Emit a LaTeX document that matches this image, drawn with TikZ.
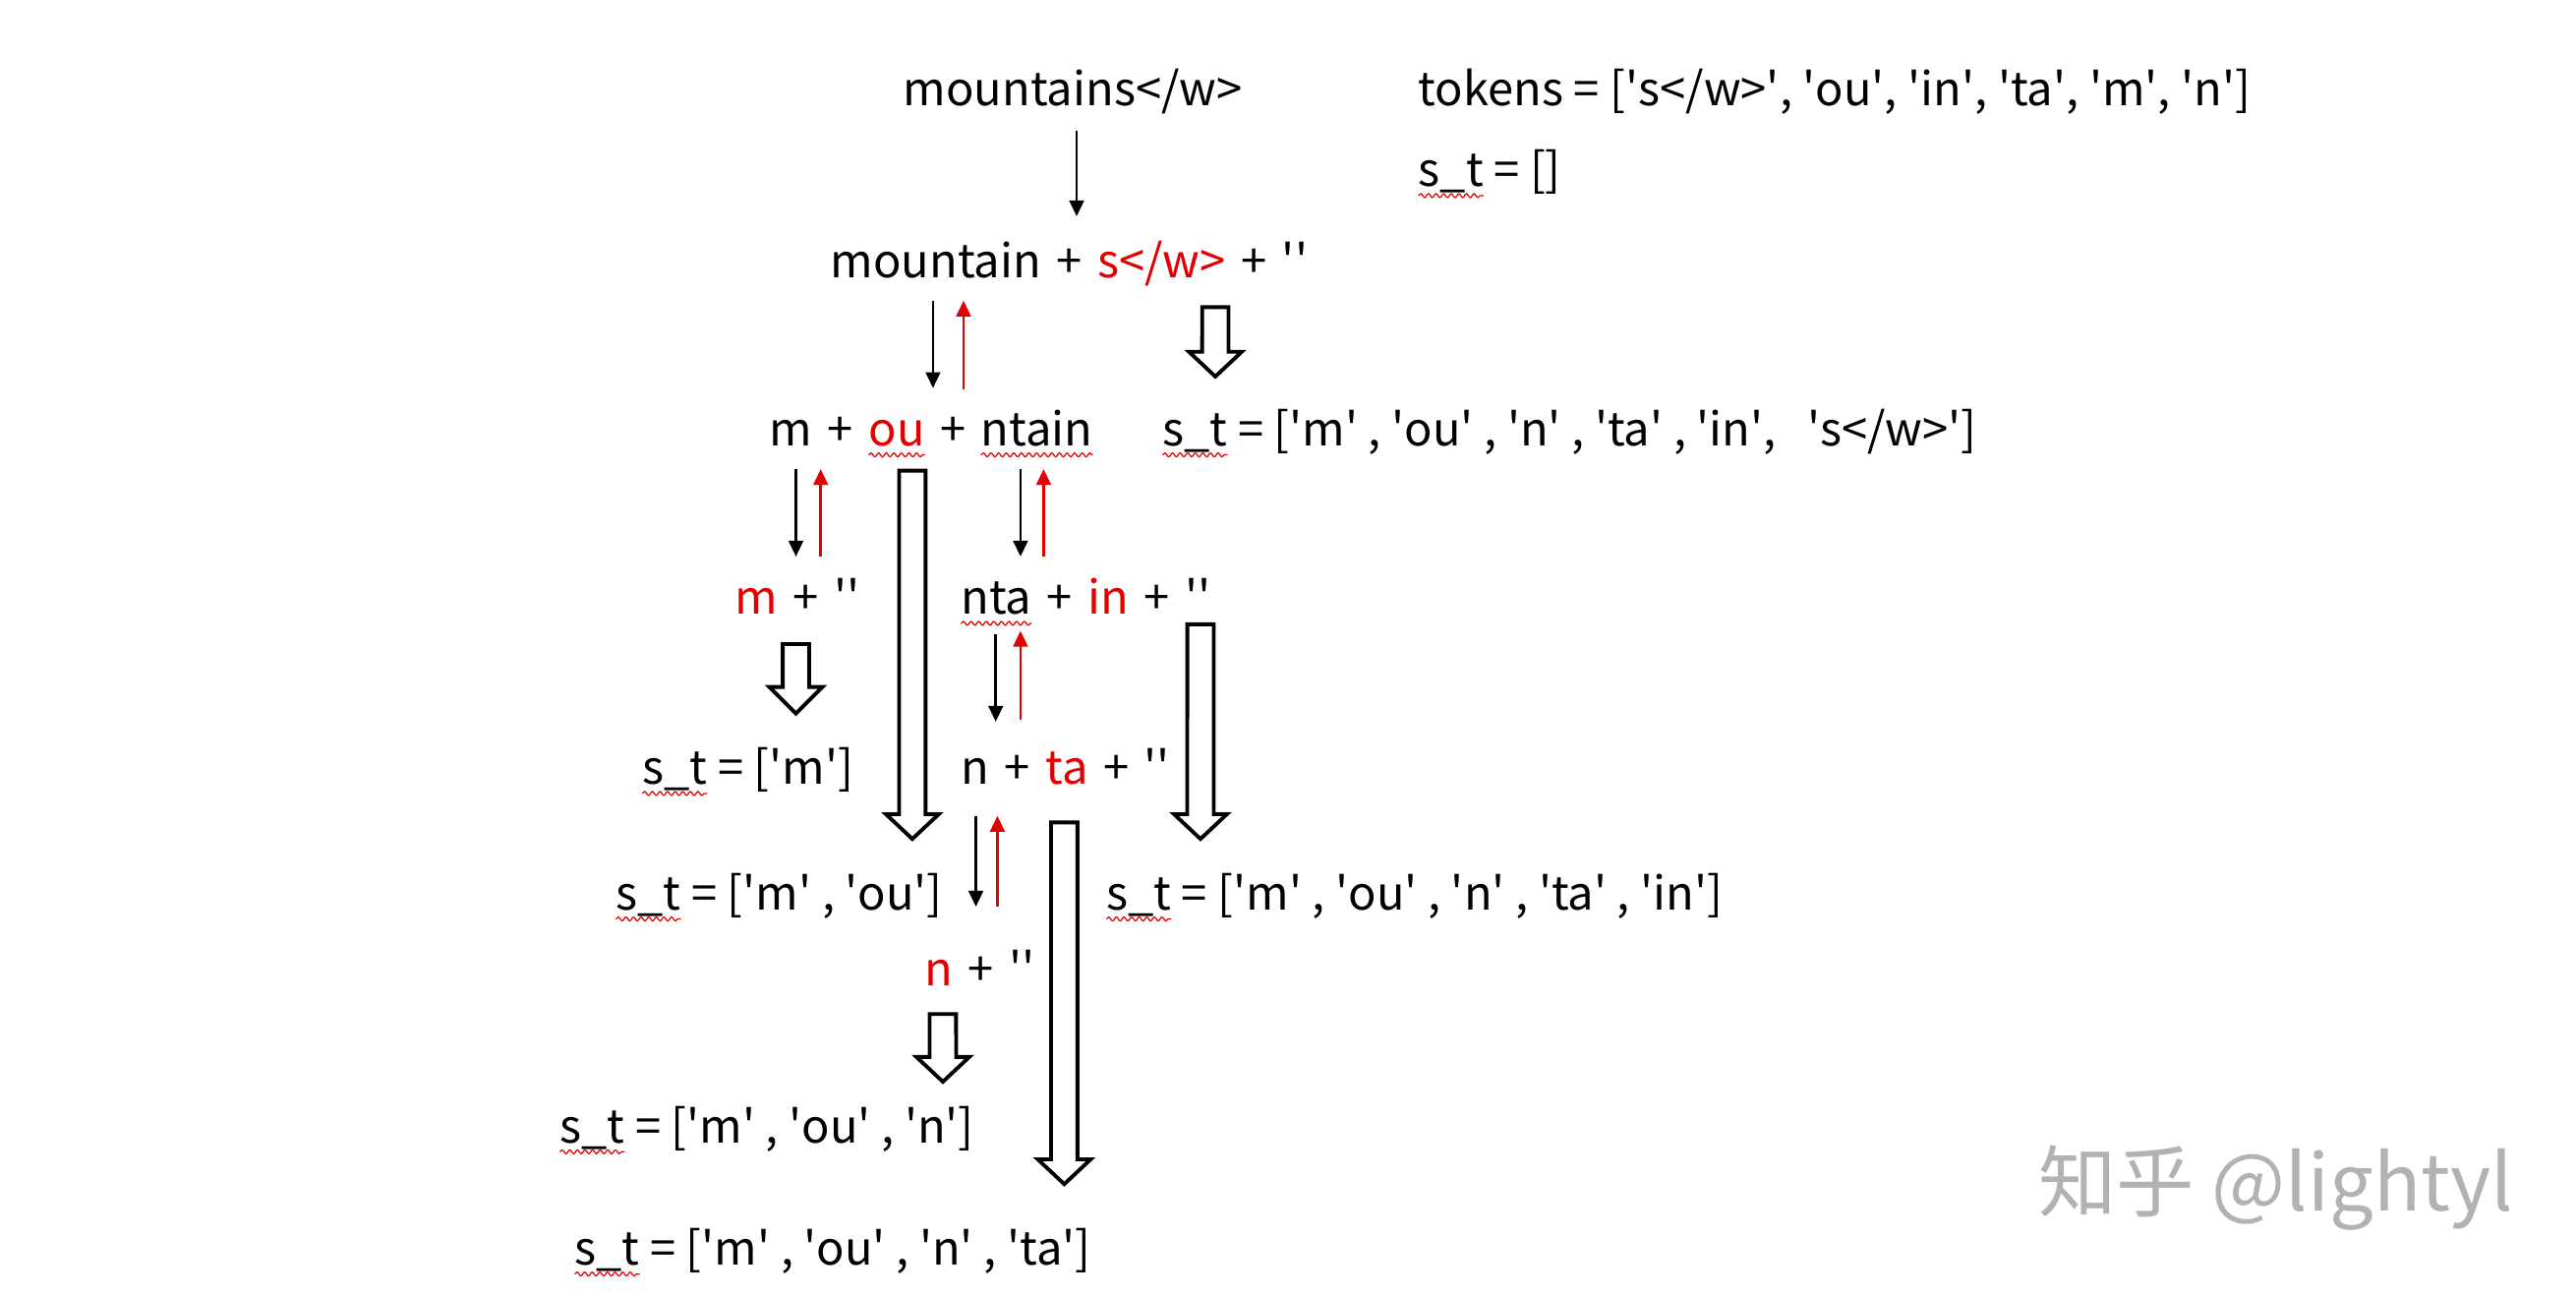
\documentclass[tikz,border=0pt]{standalone}
\usepackage{fontspec}
\setmainfont{Noto Sans CJK SC}
\newfontfamily\wmfont{Noto Sans CJK SC}
\usetikzlibrary{arrows.meta,decorations.pathmorphing}
\definecolor{myred}{RGB}{228,0,0}
\definecolor{wmgray}{RGB}{178,178,178}
\newcommand\rd[1]{\textcolor{myred}{#1}}
\newcommand\qq[1]{\textquotesingle#1\textquotesingle}
\newcommand\widesp{\fontsize{13.4}{16}\selectfont\spaceskip=0.33em\relax}
\tikzset{
  txt/.style={anchor=base west,inner sep=0pt,outer sep=0pt,xshift=-0.5mm,font=\fontsize{13.4}{16}\selectfont},
  plustxt/.style={txt,font=\widesp},
  thinarrow/.style={line width=0.75pt,-{Triangle[length=4.6pt,width=4.2pt]}},
  blk/.style={thinarrow,draw=black,fill=black},
  redarr/.style={thinarrow,draw=myred,fill=myred},
  hollow/.style={draw=black,line width=1.1pt,line join=miter,fill=white},
  squig/.style={myred,line width=0.35pt,decorate,decoration={snake,amplitude=0.55pt,segment length=2.2pt}}
}
\newcommand\sq[1]{\tikz[baseline=(sqw.base)]{\node[inner sep=0pt,outer sep=0pt](sqw){#1};\draw[squig,overlay]([yshift=-2.6pt]sqw.base west)--([yshift=-2.6pt]sqw.base east);}}
% thin vertical arrow: name, style, x, y-start, y-end
\newcommand\varrow[5]{\coordinate (#1s) at (#3,#4);\coordinate (#1e) at (#3,#5);\draw[#2] (#1s) -- (#1e);}
% hollow block arrow: name, cx, top, head base, tip
\newcommand\harrow[5]{\coordinate (#1top) at (#2,#3);\coordinate (#1tip) at (#2,#5);
  \draw[hollow] ([xshift=-8*0.16795mm]#1top) -- ([xshift=8*0.16795mm]#1top) -- ({#2+8},#4) -- ({#2+16},#4) -- (#1tip) -- ({#2-16},#4) -- ({#2-8},#4) -- cycle;}
\begin{document}
\begin{tikzpicture}[x=0.016795cm,y=-0.016795cm]
\useasboundingbox (0,0) rectangle (1560,784.8);
\fill[white] (0,0) rectangle (1560,784.8);

\node[txt] (w0) at (550,64) {mountains</w>};
\node[txt] (tok) at (862,64) {tokens = [\qq{s</w>}, \qq{ou}, \qq{in}, \qq{ta}, \qq{m}, \qq{n}]};
\node[txt] (st0) at (862,113) {\sq{s\_t} = []};
\node[plustxt] (w1) at (506,168) {mountain + \rd{s</w>} + \qq{}};
\node[plustxt] (w2) at (469,270) {m + \sq{\rd{ou}} + \sq{ntain}};
\node[txt] (st6) at (707,270) {\sq{s\_t} = [\qq{m} , \qq{ou} , \qq{n} , \qq{ta} , \qq{in},\ \ \ \qq{s</w>}]};
\node[plustxt] (w3) at (448,372) {\rd{m} + \qq{}};
\node[plustxt] (w4) at (585,372) {\sq{nta} + \rd{in} + \qq{}};
\node[txt] (st1) at (392,475) {\sq{s\_t} = [\qq{m}]};
\node[plustxt] (w5) at (585,475) {n + \rd{ta} + \qq{}};
\node[txt] (st2) at (376,551) {\sq{s\_t} = [\qq{m} , \qq{ou}]};
\node[txt] (st5) at (673,551) {\sq{s\_t} = [\qq{m} , \qq{ou} , \qq{n} , \qq{ta} , \qq{in}]};
\node[plustxt] (w6) at (563,597) {\rd{n} + \qq{}};
\node[txt] (st3) at (342,692) {\sq{s\_t} = [\qq{m} , \qq{ou} , \qq{n}]};
\node[txt] (st4) at (351,766) {\sq{s\_t} = [\qq{m} , \qq{ou} , \qq{n} , \qq{ta}]};
\node[anchor=base west,inner sep=0pt,text=wmgray,font=\wmfont\fontsize{22.6}{26}\selectfont] (wm) at (1234,733) {知乎 @lightyl};

% thin arrows
\varrow{a0}{blk}{652}{79}{131}
\varrow{a1}{blk}{565}{182}{235}
\varrow{r1}{redarr}{583.5}{236}{182}
\varrow{a2}{blk}{482}{284}{337}
\varrow{r2}{redarr}{497}{337}{284}
\varrow{a3}{blk}{618}{284}{337}
\varrow{r3}{redarr}{632}{337}{284}
\varrow{a4}{blk}{603}{384}{437}
\varrow{r4}{redarr}{618}{436}{382}
\varrow{a5}{blk}{591}{494}{549}
\varrow{r5}{redarr}{604}{549}{494}

% hollow arrows
\harrow{h1}{736}{186}{213}{228}
\harrow{h2}{552.5}{285}{493}{508}
\harrow{h3}{482}{390}{416}{432}
\harrow{h4}{727}{378}{493}{508}
\harrow{h5}{644.5}{498}{702}{717}
\harrow{h6}{571}{614}{640}{655}
\end{tikzpicture}
\end{document}
